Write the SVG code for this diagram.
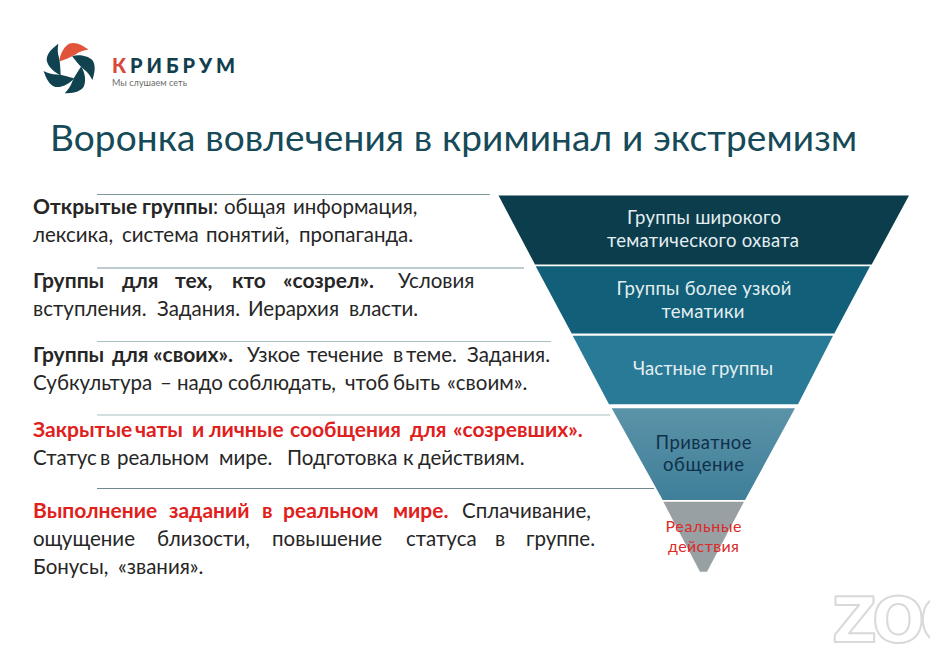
<svg xmlns="http://www.w3.org/2000/svg" width="930" height="656" viewBox="0 0 930 656">
<style>
text{font-family:"Lato","Open Sans","Noto Sans",sans-serif}
.b{font-size:20.500px;fill:#262626;word-spacing:-3px}
.s{font-weight:700;font-size:21px}
.r{fill:#e0201c;font-weight:700;font-size:21px}
.f{font-size:18.500px;fill:#e4eef1;text-anchor:middle}
.l{stroke-width:1.2;fill:none}
</style>
<defs>
<linearGradient id="g4" x1="0" y1="0" x2="0" y2="1"><stop offset="0" stop-color="#5b93a8"/><stop offset="1" stop-color="#3f7f99"/></linearGradient>
<path id="blade" d="M-10-6C-10-12-6-21 0-24C7-26 13-22 19-18C14-17 10-16 6-13C1-10-5-8-10-6Z"/>
</defs>
<rect width="930" height="656" fill="#fff"/>
<g id="logo">
<use href="#blade" fill="#e2533c" transform="translate(69.500 67.500)"/>
<use href="#blade" fill="#10424f" transform="translate(69.500 67.500) rotate(72)"/>
<use href="#blade" fill="#10424f" transform="translate(69.500 67.500) rotate(144)"/>
<use href="#blade" fill="#10424f" transform="translate(69.500 67.500) rotate(216)"/>
<use href="#blade" fill="#10424f" transform="translate(69.500 67.500) rotate(288)"/>
<text x="112" y="73" font-size="20" font-weight="900" fill="#123f4d" textLength="123"><tspan fill="#d9483b">К</tspan>РИБРУМ</text>
<text x="112" y="86" font-size="9" fill="#6b6b6b" textLength="75">Мы слушаем сеть</text>
</g>
<text id="title" x="50" y="151" font-size="37" fill="#164a59" textLength="807">Воронка вовлечения в криминал и экстремизм</text>
<g id="connectors" class="l">
<line x1="97" y1="194.500" x2="490" y2="194.500" stroke="#7f9a9e"/>
<line x1="97" y1="268" x2="524" y2="268" stroke="#7f9a9e"/>
<line x1="97" y1="341.500" x2="551" y2="341.500" stroke="#a9c1c2"/>
<line x1="97" y1="415" x2="610" y2="415" stroke="#a9c1c2"/>
<line x1="97" y1="488.500" x2="654" y2="488.500" stroke="#71898d"/>
</g>
<g id="text1" class="b">
<text y="214"><tspan class="s" x="33">Открытые </tspan><tspan class="s" x="142">группы</tspan>: <tspan x="224">общая </tspan><tspan x="293">информация,</tspan></text>
<text y="242"><tspan x="33">лексика, </tspan><tspan x="122">система </tspan><tspan x="206">понятий, </tspan><tspan x="299">пропаганда.</tspan></text>
</g>
<g id="text2" class="b">
<text y="288"><tspan class="s" x="33">Группы </tspan><tspan class="s" x="122">для </tspan><tspan class="s" x="175">тех, </tspan><tspan class="s" x="232">кто </tspan><tspan class="s" x="283">«созрел». </tspan><tspan x="398">Условия</tspan></text>
<text y="316"><tspan x="33">вступления. </tspan><tspan x="157">Задания. </tspan><tspan x="248">Иерархия </tspan><tspan x="349">власти.</tspan></text>
</g>
<g id="text3" class="b">
<text y="362"><tspan class="s" x="33">Группы </tspan><tspan class="s" x="112">для </tspan><tspan class="s" x="153">«своих». </tspan><tspan x="247">Узкое </tspan><tspan x="307">течение </tspan><tspan x="393">в </tspan><tspan x="406">теме. </tspan><tspan x="467">Задания.</tspan></text>
<text y="390"><tspan x="33">Субкультура </tspan><tspan x="160">– </tspan><tspan x="177">надо </tspan><tspan x="228">соблюдать, </tspan><tspan x="345">чтоб </tspan><tspan x="393">быть </tspan><tspan x="447">«своим».</tspan></text>
</g>
<g id="text4" class="b">
<text y="437"><tspan class="r" x="33">Закрытые </tspan><tspan class="r" x="135">чаты </tspan><tspan class="r" x="192">и </tspan><tspan class="r" x="209">личные </tspan><tspan class="r" x="290">сообщения </tspan><tspan class="r" x="410">для </tspan><tspan class="r" x="453">«созревших».</tspan></text>
<text y="465"><tspan x="33">Статус </tspan><tspan x="100">в </tspan><tspan x="117">реальном </tspan><tspan x="219">мире. </tspan><tspan x="287">Подготовка </tspan><tspan x="403">к </tspan><tspan x="418">действиям.</tspan></text>
</g>
<g id="text5" class="b">
<text y="518"><tspan class="r" x="33">Выполнение </tspan><tspan class="r" x="169">заданий </tspan><tspan class="r" x="262">в </tspan><tspan class="r" x="283">реальном </tspan><tspan class="r" x="393">мире. </tspan><tspan x="462">Сплачивание,</tspan></text>
<text y="546"><tspan x="33">ощущение </tspan><tspan x="157">близости, </tspan><tspan x="272">повышение </tspan><tspan x="406">статуса </tspan><tspan x="495">в </tspan><tspan x="526">группе.</tspan></text>
<text y="574"><tspan x="33">Бонусы, </tspan><tspan x="118">«звания».</tspan></text>
</g>
<g id="level1">
<polygon points="498.500,195.500 909,195.500 871.700,264.500 535,264.500" fill="#0b3d4c"/>
<text class="f" x="704" y="224" textLength="154">Группы широкого</text>
<text class="f" x="703" y="247" textLength="192">тематического охвата</text>
</g>
<g id="level2">
<polygon points="535.700,266.300 870,266.300 834.300,333.500 571.700,333.500" fill="#115f78"/>
<text class="f" x="704" y="295" textLength="175">Группы более узкой</text>
<text class="f" x="703" y="318" textLength="83">тематики</text>
</g>
<g id="level3">
<polygon points="572.700,335.700 833,335.700 798,404.300 609,404.300" fill="#297a96"/>
<text class="f" x="703" y="375" textLength="140">Частные группы</text>
</g>
<g id="level4">
<polygon points="611.700,408.300 795,408.300 745,500 662.700,500" fill="url(#g4)"/>
<text class="f" x="703.500" y="449" textLength="96" style="fill:#10304a">Приватное</text>
<text class="f" x="703.500" y="471" textLength="81" style="fill:#10304a">общение</text>
</g>
<g id="level5">
<polygon points="663.300,501.700 744,501.700 707,571.700 700,571.700" fill="#99a0a4"/>
<text x="703.500" y="532" font-size="16" text-anchor="middle" fill="#dc2a28" textLength="76">Реальные</text>
<text x="703.500" y="552" font-size="16" text-anchor="middle" fill="#dc2a28" textLength="71">действия</text>
</g>
<text id="watermark" x="832" y="642" font-size="62" font-weight="700" fill="#fff" stroke="#d9d9d9" stroke-width="2" stroke-linejoin="round" letter-spacing="-5" style="font-family:'DejaVu Sans',sans-serif">ZOO</text>
</svg>
